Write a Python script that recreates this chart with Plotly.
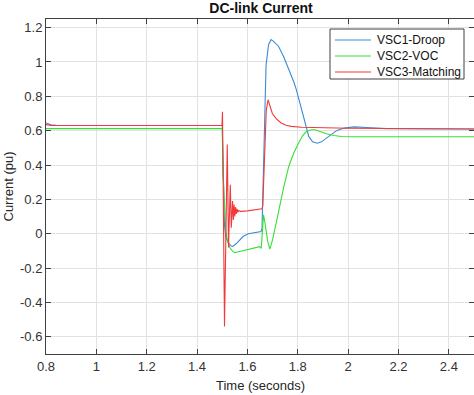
import plotly.graph_objects as go

# VSC1-Droop (blue)
t_vsc1 = [0.80, 0.81, 0.82, 0.84, 0.86, 1.500, 1.504, 1.509, 1.514, 1.524,
          1.534, 1.542, 1.554, 1.569, 1.584, 1.604, 1.629, 1.654, 1.658, 1.666,
          1.674, 1.684, 1.694, 1.704, 1.724, 1.744, 1.764, 1.784, 1.794, 1.814,
          1.829, 1.844, 1.859, 1.877, 1.894, 1.924, 1.954, 1.984, 2.024, 2.074,
          2.15, 2.5]
i_vsc1 = [0.645, 0.638, 0.634, 0.631, 0.63, 0.63, 0.3, 0.05, -0.02, -0.05,
          -0.07, -0.074, -0.06, -0.035, -0.015, 0.0, 0.008, 0.013, 0.03, 0.5,
          0.98, 1.1, 1.13, 1.12, 1.09, 1.03, 0.96, 0.885, 0.84, 0.73,
          0.635, 0.565, 0.535, 0.527, 0.535, 0.565, 0.60, 0.615, 0.622, 0.618,
          0.612, 0.61]

# VSC2-VOC (green)
t_vsc2 = [0.80, 1.500, 1.503, 1.508, 1.514, 1.520, 1.530, 1.540, 1.550, 1.565,
          1.595, 1.625, 1.649, 1.655, 1.659, 1.664, 1.670, 1.680, 1.689, 1.699,
          1.714, 1.729, 1.744, 1.764, 1.784, 1.804, 1.819, 1.834, 1.854, 1.869,
          1.889, 1.914, 1.944, 1.974, 2.014, 2.5]
i_vsc2 = [0.612, 0.612, 0.35, 0.15, 0.02, -0.04, -0.08, -0.10, -0.11, -0.105,
          -0.095, -0.085, -0.075, -0.085, 0.0, 0.11, 0.06, -0.04, -0.09, -0.04,
          0.06, 0.17, 0.27, 0.39, 0.47, 0.53, 0.57, 0.595, 0.605, 0.605,
          0.595, 0.582, 0.572, 0.566, 0.565, 0.565]

# VSC3-Matching (red)
t_vsc3 = [0.80, 0.82, 0.85, 1.499, 1.501, 1.509, 1.520, 1.525, 1.532, 1.536,
          1.541, 1.544, 1.547, 1.550, 1.553, 1.556, 1.559, 1.562, 1.566, 1.572,
          1.600, 1.630, 1.657, 1.661, 1.668, 1.675, 1.682, 1.689, 1.699, 1.714,
          1.734, 1.754, 1.774, 1.814, 1.900, 2.000, 2.5]
i_vsc3 = [0.635, 0.631, 0.63, 0.63, 0.71, -0.54, 0.52, -0.08, 0.285, 0.035,
          0.19, 0.08, 0.17, 0.10, 0.155, 0.115, 0.145, 0.125, 0.135, 0.13,
          0.133, 0.138, 0.145, 0.16, 0.5, 0.72, 0.78, 0.75, 0.70, 0.67,
          0.645, 0.632, 0.625, 0.62, 0.617, 0.614, 0.61]

series_names = ["VSC1-Droop", "VSC2-VOC", "VSC3-Matching"]
series_colors = ["#3b8bd4", "#35e035", "#f03a3a"]

x_ticks = [0.8, 1.0, 1.2, 1.4, 1.6, 1.8, 2.0, 2.2, 2.4]
x_labels = ["0.8", "1", "1.2", "1.4", "1.6", "1.8", "2", "2.2", "2.4"]
y_ticks = [-0.6, -0.4, -0.2, 0, 0.2, 0.4, 0.6, 0.8, 1.0, 1.2]
y_labels = ["-0.6", "-0.4", "-0.2", "0", "0.2", "0.4", "0.6", "0.8", "1", "1.2"]

FONT = "Liberation Sans, Arial, sans-serif"
W, H = 474, 395
ML, MR, MT, MB = 46, 0, 19, 41
PW, PH = W - ML - MR, H - MT - MB


def px_x(p):
    return (p - ML) / PW


def px_y(p):
    return (H - MB - p) / PH


fig = go.Figure()
for t, v, name, col in zip([t_vsc1, t_vsc2, t_vsc3], [i_vsc1, i_vsc2, i_vsc3],
                           series_names, series_colors):
    fig.add_trace(go.Scatter(x=t, y=v, mode="lines", name=name, showlegend=False,
                             line=dict(color=col, width=1.1)))

axis_common = dict(
    showline=True, linecolor="#404040", linewidth=1, mirror="ticks",
    ticks="inside", ticklen=5, tickcolor="#404040", tickwidth=1,
    showgrid=True, gridcolor="#e2e2e2", gridwidth=1, zeroline=False,
    automargin=False,
    tickfont=dict(family=FONT, size=13, color="#333333"),
)

# manual legend (MATLAB style box)
shapes = [dict(type="rect", xref="paper", yref="paper",
               x0=px_x(330), x1=px_x(464), y0=px_y(79), y1=px_y(29),
               line=dict(color="#404040", width=1), fillcolor="white", layer="above")]
annotations = []
for k, (name, col) in enumerate(zip(series_names, series_colors)):
    yy = px_y(40 + 16 * k)
    shapes.append(dict(type="line", xref="paper", yref="paper",
                       x0=px_x(335), x1=px_x(371), y0=yy, y1=yy,
                       line=dict(color=col, width=1.1), layer="above"))
    annotations.append(dict(text=name, xref="paper", yref="paper", x=px_x(375), y=yy,
                            xanchor="left", yanchor="middle", showarrow=False,
                            font=dict(family=FONT, size=12, color="#111111")))

annotations += [
    dict(text="Time (seconds)", xref="paper", yref="paper", x=0.5, y=px_y(385),
         xanchor="center", yanchor="middle", showarrow=False,
         font=dict(family=FONT, size=13, color="#262626")),
    dict(text="Current (pu)", xref="paper", yref="paper", x=px_x(8), y=0.5,
         xanchor="center", yanchor="middle", textangle=-90, showarrow=False,
         font=dict(family=FONT, size=13, color="#262626")),
]

fig.update_layout(
    width=W, height=H,
    margin=dict(l=ML, r=MR, t=MT, b=MB, autoexpand=False),
    paper_bgcolor="white", plot_bgcolor="white",
    font=dict(family=FONT, color="#262626"),
    title=dict(text="<b>DC-link Current</b>", x=261 / W, xref="container",
               xanchor="center", y=1 - 8 / H, yanchor="middle",
               font=dict(size=14, color="#111111")),
    xaxis=dict(range=[0.8, 2.5], tickvals=x_ticks, ticktext=x_labels, **axis_common),
    yaxis=dict(range=[-0.7, 1.25], tickvals=y_ticks, ticktext=y_labels, **axis_common),
    shapes=shapes,
    annotations=annotations,
    showlegend=False,
)

fig.write_html("out.html", config={"displayModeBar": False},
               post_script="document.body.style.margin='0';")
